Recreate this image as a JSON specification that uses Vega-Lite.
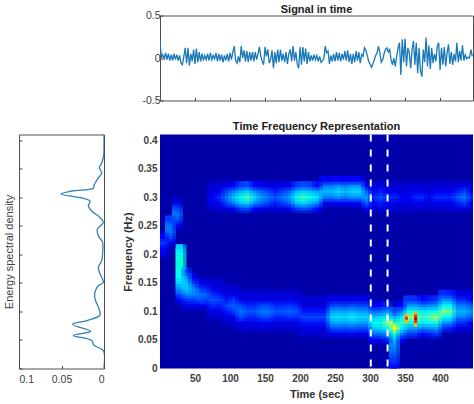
{"$schema":"https://vega.github.io/schema/vega-lite/v6.json","padding":{"left":3,"top":2.5,"right":0,"bottom":0},"background":"white","bounds":"flush","columns":2,"spacing":{"row":34,"column":56},
"config":{"font":"Liberation Sans","axis":{"grid":false,"labelColor":"#404040","titleColor":"#303030","domain":false,"tickColor":"#404040","labelFontSize":10.5},"view":{"stroke":"#505050"},"title":{"fontSize":11,"fontWeight":"bold","color":"#202020"}},
"datasets":{
"sig":[{"t":0,"v":0.2},{"t":2,"v":0},{"t":4,"v":0.04},{"t":6,"v":-0.01},{"t":8,"v":0.06},{"t":10,"v":-0.02},{"t":12,"v":0.05},{"t":14,"v":-0.03},{"t":16,"v":0.04},{"t":18,"v":-0.03},{"t":20,"v":0.05},{"t":22,"v":-0.02},{"t":24,"v":0.04},{"t":26,"v":-0.03},{"t":28,"v":0.03},{"t":30,"v":-0.06},{"t":32,"v":-0.08},{"t":34,"v":0.02},{"t":36,"v":0.12},{"t":38,"v":-0.06},{"t":40,"v":0.12},{"t":42,"v":-0.09},{"t":44,"v":0.05},{"t":46,"v":-0.04},{"t":48,"v":0.1},{"t":50,"v":-0.07},{"t":52,"v":0.11},{"t":54,"v":-0.05},{"t":56,"v":0.07},{"t":58,"v":-0.04},{"t":60,"v":0.05},{"t":62,"v":-0.03},{"t":64,"v":0.03},{"t":66,"v":-0.02},{"t":68,"v":0.05},{"t":70,"v":-0.03},{"t":72,"v":0.06},{"t":74,"v":-0.02},{"t":76,"v":0.03},{"t":78,"v":-0.01},{"t":80,"v":0.06},{"t":82,"v":-0.04},{"t":84,"v":0.05},{"t":86,"v":-0.03},{"t":88,"v":0.04},{"t":90,"v":-0.05},{"t":92,"v":0.03},{"t":94,"v":-0.03},{"t":96,"v":0.05},{"t":98,"v":-0.04},{"t":100,"v":0.06},{"t":102,"v":-0.02},{"t":104,"v":0.07},{"t":106,"v":0.14},{"t":108,"v":-0.03},{"t":110,"v":-0.06},{"t":112,"v":0.02},{"t":114,"v":-0.05},{"t":116,"v":0.14},{"t":118,"v":0},{"t":120,"v":0.09},{"t":122,"v":-0.04},{"t":124,"v":0.08},{"t":126,"v":-0.05},{"t":128,"v":0.07},{"t":130,"v":-0.03},{"t":132,"v":0.07},{"t":134,"v":-0.04},{"t":136,"v":0.07},{"t":138,"v":-0.02},{"t":140,"v":0.05},{"t":142,"v":0.13},{"t":144,"v":0.02},{"t":146,"v":-0.04},{"t":148,"v":-0.08},{"t":150,"v":0.13},{"t":152,"v":0.02},{"t":154,"v":0.1},{"t":156,"v":-0.06},{"t":158,"v":-0.02},{"t":160,"v":0.09},{"t":162,"v":-0.12},{"t":164,"v":0.07},{"t":166,"v":-0.06},{"t":168,"v":0.1},{"t":170,"v":-0.05},{"t":172,"v":0.1},{"t":174,"v":-0.03},{"t":176,"v":0.05},{"t":178,"v":-0.05},{"t":180,"v":0.07},{"t":182,"v":-0.07},{"t":184,"v":0.05},{"t":186,"v":0.1},{"t":188,"v":-0.04},{"t":190,"v":0.14},{"t":192,"v":-0.03},{"t":194,"v":0.07},{"t":196,"v":-0.07},{"t":198,"v":-0.12},{"t":200,"v":0.13},{"t":202,"v":-0.08},{"t":204,"v":0.13},{"t":206,"v":-0.04},{"t":208,"v":0.11},{"t":210,"v":-0.07},{"t":212,"v":0.07},{"t":214,"v":-0.04},{"t":216,"v":0.03},{"t":218,"v":-0.03},{"t":220,"v":0.04},{"t":222,"v":-0.02},{"t":224,"v":0.03},{"t":226,"v":-0.04},{"t":228,"v":0.02},{"t":230,"v":-0.05},{"t":232,"v":-0.03},{"t":234,"v":-0.01},{"t":236,"v":0.14},{"t":238,"v":0.06},{"t":240,"v":0.08},{"t":242,"v":-0.07},{"t":244,"v":0.03},{"t":246,"v":-0.04},{"t":248,"v":0.05},{"t":250,"v":-0.04},{"t":252,"v":0.07},{"t":254,"v":-0.03},{"t":256,"v":0.06},{"t":258,"v":-0.04},{"t":260,"v":0.05},{"t":262,"v":-0.02},{"t":264,"v":0.08},{"t":266,"v":-0.03},{"t":268,"v":0.09},{"t":270,"v":-0.05},{"t":272,"v":0.05},{"t":274,"v":-0.07},{"t":276,"v":0.05},{"t":278,"v":-0.05},{"t":280,"v":0.08},{"t":282,"v":-0.03},{"t":284,"v":0.07},{"t":286,"v":-0.06},{"t":288,"v":0.04},{"t":290,"v":0.02},{"t":292,"v":0.12},{"t":294,"v":0.09},{"t":296,"v":0.03},{"t":298,"v":-0.04},{"t":300,"v":-0.07},{"t":302,"v":-0.11},{"t":304,"v":-0.07},{"t":306,"v":-0.02},{"t":308,"v":0.03},{"t":310,"v":0.06},{"t":312,"v":0.14},{"t":314,"v":0.06},{"t":316,"v":-0.05},{"t":318,"v":-0.02},{"t":320,"v":0.05},{"t":322,"v":0.1},{"t":324,"v":0.12},{"t":326,"v":0.07},{"t":328,"v":0.1},{"t":330,"v":-0.02},{"t":332,"v":-0.08},{"t":334,"v":0},{"t":336,"v":-0.1},{"t":338,"v":0.02},{"t":340,"v":0.12},{"t":342,"v":0.18},{"t":344,"v":-0.2},{"t":346,"v":0.22},{"t":348,"v":-0.05},{"t":350,"v":0.23},{"t":352,"v":-0.1},{"t":354,"v":0.12},{"t":356,"v":0.06},{"t":358,"v":-0.12},{"t":360,"v":0.1},{"t":362,"v":0.2},{"t":364,"v":-0.08},{"t":366,"v":0.18},{"t":368,"v":-0.18},{"t":370,"v":0.12},{"t":372,"v":-0.15},{"t":374,"v":-0.22},{"t":376,"v":0.1},{"t":378,"v":-0.05},{"t":380,"v":0.24},{"t":382,"v":-0.1},{"t":384,"v":0.15},{"t":386,"v":-0.13},{"t":388,"v":0.12},{"t":390,"v":-0.06},{"t":392,"v":0.05},{"t":394,"v":-0.04},{"t":396,"v":0.14},{"t":398,"v":0.18},{"t":400,"v":-0.14},{"t":402,"v":0.12},{"t":404,"v":-0.08},{"t":406,"v":0.13},{"t":408,"v":-0.1},{"t":410,"v":0.06},{"t":412,"v":0.16},{"t":414,"v":-0.07},{"t":416,"v":0.07},{"t":418,"v":-0.08},{"t":420,"v":0.05},{"t":422,"v":-0.04},{"t":424,"v":0.18},{"t":426,"v":-0.05},{"t":428,"v":0.08},{"t":430,"v":-0.03},{"t":432,"v":0.15},{"t":434,"v":-0.03},{"t":436,"v":0.04},{"t":438,"v":-0.01},{"t":440,"v":0.01},{"t":442,"v":0},{"t":444,"v":0.1},{"t":446,"v":0.02}],
"esd":[{"f":0,"e":0},{"f":0.029,"e":0},{"f":0.034,"e":0.003},{"f":0.0407,"e":0.0118},{"f":0.049,"e":0.0145},{"f":0.058,"e":0.036},{"f":0.065,"e":0.0157},{"f":0.0773,"e":0.0369},{"f":0.084,"e":0.02},{"f":0.094,"e":0.0047},{"f":0.1076,"e":0.0067},{"f":0.122,"e":0.0106},{"f":0.134,"e":0.0106},{"f":0.145,"e":0.0067},{"f":0.151,"e":0.0008},{"f":0.166,"e":0.0047},{"f":0.177,"e":0.0067},{"f":0.189,"e":0.0027},{"f":0.2035,"e":0.0016},{"f":0.221,"e":0.0016},{"f":0.2326,"e":0.0067},{"f":0.244,"e":0.0078},{"f":0.256,"e":0.0008},{"f":0.2645,"e":0.0047},{"f":0.276,"e":0.0145},{"f":0.285,"e":0.0184},{"f":0.2936,"e":0.0165},{"f":0.2994,"e":0.0282},{"f":0.3058,"e":0.0506},{"f":0.311,"e":0.038},{"f":0.3157,"e":0.0125},{"f":0.321,"e":0.0118},{"f":0.3314,"e":0.0078},{"f":0.343,"e":0.0027},{"f":0.3517,"e":0.0055},{"f":0.36,"e":0.0027},{"f":0.372,"e":0.0005},{"f":0.4,"e":0},{"f":0.41,"e":0}],
"marks":[{"t":301},{"t":325}],
"hot":[{"t":352,"f":0.092,"v":0.72},{"t":352,"f":0.087,"v":0.86},{"t":352,"f":0.082,"v":0.72},{"t":365,"f":0.097,"v":0.72},{"t":365,"f":0.091,"v":0.86},{"t":365,"f":0.086,"v":0.92},{"t":365,"f":0.081,"v":0.86},{"t":365,"f":0.076,"v":0.72},{"t":330,"f":0.08,"v":0.6},{"t":335,"f":0.073,"v":0.62}],
"cells":[
{"t":5,"f":0.2,"v":0.09},{"t":5,"f":0.21,"v":0.11},{"t":5,"f":0.22,"v":0.13},{"t":5,"f":0.23,"v":0.11},{"t":15,"f":0.22,"v":0.1},{"t":15,"f":0.23,"v":0.14},{"t":15,"f":0.24,"v":0.18},{"t":15,"f":0.25,"v":0.18},{"t":15,"f":0.26,"v":0.13},{"t":25,"f":0.25,"v":0.1},{"t":25,"f":0.26,"v":0.14},{"t":25,"f":0.27,"v":0.18},{"t":25,"f":0.28,"v":0.14},{"t":25,"f":0.29,"v":0.08},
{"t":30,"f":0.21,"v":0.3},{"t":30,"f":0.2,"v":0.38},{"t":30,"f":0.19,"v":0.42},{"t":30,"f":0.18,"v":0.42},{"t":30,"f":0.17,"v":0.4},{"t":30,"f":0.16,"v":0.36},{"t":30,"f":0.15,"v":0.3},{"t":30,"f":0.14,"v":0.22},{"t":30,"f":0.13,"v":0.15},{"t":30,"f":0.12,"v":0.11},
{"t":38,"f":0.17,"v":0.12},{"t":38,"f":0.16,"v":0.2},{"t":38,"f":0.15,"v":0.27},{"t":38,"f":0.14,"v":0.3},{"t":38,"f":0.13,"v":0.22},{"t":38,"f":0.12,"v":0.13},{"t":38,"f":0.11,"v":0.08},
{"t":48,"f":0.16,"v":0.09},{"t":48,"f":0.15,"v":0.13},{"t":48,"f":0.14,"v":0.2},{"t":48,"f":0.13,"v":0.2},{"t":48,"f":0.12,"v":0.13},{"t":48,"f":0.11,"v":0.09},
{"t":58,"f":0.15,"v":0.09},{"t":58,"f":0.14,"v":0.13},{"t":58,"f":0.13,"v":0.18},{"t":58,"f":0.12,"v":0.15},{"t":58,"f":0.11,"v":0.1},
{"t":65,"f":0.15,"v":0.08},{"t":65,"f":0.14,"v":0.12},{"t":65,"f":0.13,"v":0.16},{"t":65,"f":0.12,"v":0.13},{"t":65,"f":0.11,"v":0.09},
{"t":75,"f":0.15,"v":0.065},{"t":75,"f":0.14,"v":0.085},{"t":75,"f":0.13,"v":0.12},{"t":75,"f":0.12,"v":0.15},{"t":75,"f":0.11,"v":0.12},{"t":75,"f":0.1,"v":0.085},{"t":75,"f":0.09,"v":0.065},
{"t":85,"f":0.15,"v":0.064},{"t":85,"f":0.14,"v":0.08},{"t":85,"f":0.13,"v":0.113},{"t":85,"f":0.12,"v":0.14},{"t":85,"f":0.11,"v":0.113},{"t":85,"f":0.1,"v":0.08},{"t":85,"f":0.09,"v":0.064},
{"t":95,"f":0.14,"v":0.064},{"t":95,"f":0.13,"v":0.08},{"t":95,"f":0.12,"v":0.113},{"t":95,"f":0.11,"v":0.14},{"t":95,"f":0.1,"v":0.113},{"t":95,"f":0.09,"v":0.08},{"t":95,"f":0.08,"v":0.064},
{"t":105,"f":0.14,"v":0.067},{"t":105,"f":0.13,"v":0.088},{"t":105,"f":0.12,"v":0.127},{"t":105,"f":0.11,"v":0.16},{"t":105,"f":0.1,"v":0.127},{"t":105,"f":0.09,"v":0.088},{"t":105,"f":0.08,"v":0.067},
{"t":115,"f":0.13,"v":0.07},{"t":115,"f":0.12,"v":0.095},{"t":115,"f":0.11,"v":0.14},{"t":115,"f":0.1,"v":0.18},{"t":115,"f":0.09,"v":0.14},{"t":115,"f":0.08,"v":0.095},{"t":115,"f":0.07,"v":0.07},
{"t":125,"f":0.13,"v":0.065},{"t":125,"f":0.12,"v":0.085},{"t":125,"f":0.11,"v":0.12},{"t":125,"f":0.1,"v":0.15},{"t":125,"f":0.09,"v":0.12},{"t":125,"f":0.08,"v":0.085},{"t":125,"f":0.07,"v":0.065},
{"t":135,"f":0.13,"v":0.065},{"t":135,"f":0.12,"v":0.085},{"t":135,"f":0.11,"v":0.12},{"t":135,"f":0.1,"v":0.15},{"t":135,"f":0.09,"v":0.12},{"t":135,"f":0.08,"v":0.085},{"t":135,"f":0.07,"v":0.065},
{"t":145,"f":0.13,"v":0.07},{"t":145,"f":0.12,"v":0.095},{"t":145,"f":0.11,"v":0.14},{"t":145,"f":0.1,"v":0.18},{"t":145,"f":0.09,"v":0.14},{"t":145,"f":0.08,"v":0.095},{"t":145,"f":0.07,"v":0.07},
{"t":155,"f":0.13,"v":0.07},{"t":155,"f":0.12,"v":0.095},{"t":155,"f":0.11,"v":0.14},{"t":155,"f":0.1,"v":0.18},{"t":155,"f":0.09,"v":0.14},{"t":155,"f":0.08,"v":0.095},{"t":155,"f":0.07,"v":0.07},
{"t":165,"f":0.13,"v":0.065},{"t":165,"f":0.12,"v":0.085},{"t":165,"f":0.11,"v":0.12},{"t":165,"f":0.1,"v":0.15},{"t":165,"f":0.09,"v":0.12},{"t":165,"f":0.08,"v":0.085},{"t":165,"f":0.07,"v":0.065},
{"t":175,"f":0.13,"v":0.065},{"t":175,"f":0.12,"v":0.085},{"t":175,"f":0.11,"v":0.12},{"t":175,"f":0.1,"v":0.15},{"t":175,"f":0.09,"v":0.12},{"t":175,"f":0.08,"v":0.085},{"t":175,"f":0.07,"v":0.065},
{"t":185,"f":0.13,"v":0.067},{"t":185,"f":0.12,"v":0.088},{"t":185,"f":0.11,"v":0.127},{"t":185,"f":0.1,"v":0.16},{"t":185,"f":0.09,"v":0.127},{"t":185,"f":0.08,"v":0.088},{"t":185,"f":0.07,"v":0.067},
{"t":195,"f":0.13,"v":0.065},{"t":195,"f":0.12,"v":0.085},{"t":195,"f":0.11,"v":0.12},{"t":195,"f":0.1,"v":0.15},{"t":195,"f":0.09,"v":0.12},{"t":195,"f":0.08,"v":0.085},{"t":195,"f":0.07,"v":0.065},
{"t":205,"f":0.12,"v":0.064},{"t":205,"f":0.11,"v":0.08},{"t":205,"f":0.1,"v":0.113},{"t":205,"f":0.09,"v":0.14},{"t":205,"f":0.08,"v":0.113},{"t":205,"f":0.07,"v":0.08},{"t":205,"f":0.06,"v":0.064},
{"t":215,"f":0.12,"v":0.064},{"t":215,"f":0.11,"v":0.08},{"t":215,"f":0.1,"v":0.113},{"t":215,"f":0.09,"v":0.14},{"t":215,"f":0.08,"v":0.113},{"t":215,"f":0.07,"v":0.08},{"t":215,"f":0.06,"v":0.064},
{"t":225,"f":0.12,"v":0.064},{"t":225,"f":0.11,"v":0.08},{"t":225,"f":0.1,"v":0.113},{"t":225,"f":0.09,"v":0.14},{"t":225,"f":0.08,"v":0.113},{"t":225,"f":0.07,"v":0.08},{"t":225,"f":0.06,"v":0.064},
{"t":235,"f":0.12,"v":0.064},{"t":235,"f":0.11,"v":0.08},{"t":235,"f":0.1,"v":0.113},{"t":235,"f":0.09,"v":0.14},{"t":235,"f":0.08,"v":0.113},{"t":235,"f":0.07,"v":0.08},{"t":235,"f":0.06,"v":0.064},
{"t":245,"f":0.12,"v":0.088},{"t":245,"f":0.11,"v":0.138},{"t":245,"f":0.1,"v":0.225},{"t":245,"f":0.09,"v":0.3},{"t":245,"f":0.08,"v":0.225},{"t":245,"f":0.07,"v":0.138},{"t":245,"f":0.06,"v":0.088},
{"t":255,"f":0.12,"v":0.09},{"t":255,"f":0.11,"v":0.145},{"t":255,"f":0.1,"v":0.24},{"t":255,"f":0.09,"v":0.32},{"t":255,"f":0.08,"v":0.24},{"t":255,"f":0.07,"v":0.145},{"t":255,"f":0.06,"v":0.09},
{"t":265,"f":0.12,"v":0.088},{"t":265,"f":0.11,"v":0.138},{"t":265,"f":0.1,"v":0.225},{"t":265,"f":0.09,"v":0.3},{"t":265,"f":0.08,"v":0.225},{"t":265,"f":0.07,"v":0.138},{"t":265,"f":0.06,"v":0.088},
{"t":275,"f":0.12,"v":0.094},{"t":275,"f":0.11,"v":0.15},{"t":275,"f":0.1,"v":0.25},{"t":275,"f":0.09,"v":0.34},{"t":275,"f":0.08,"v":0.25},{"t":275,"f":0.07,"v":0.15},{"t":275,"f":0.06,"v":0.094},
{"t":285,"f":0.12,"v":0.088},{"t":285,"f":0.11,"v":0.138},{"t":285,"f":0.1,"v":0.225},{"t":285,"f":0.09,"v":0.3},{"t":285,"f":0.08,"v":0.225},{"t":285,"f":0.07,"v":0.138},{"t":285,"f":0.06,"v":0.088},
{"t":295,"f":0.12,"v":0.088},{"t":295,"f":0.11,"v":0.138},{"t":295,"f":0.1,"v":0.225},{"t":295,"f":0.09,"v":0.3},{"t":295,"f":0.08,"v":0.225},{"t":295,"f":0.07,"v":0.138},{"t":295,"f":0.06,"v":0.088},
{"t":305,"f":0.11,"v":0.1},{"t":305,"f":0.1,"v":0.165},{"t":305,"f":0.09,"v":0.28},{"t":305,"f":0.08,"v":0.38},{"t":305,"f":0.07,"v":0.28},{"t":305,"f":0.06,"v":0.165},{"t":305,"f":0.05,"v":0.1},
{"t":315,"f":0.11,"v":0.1},{"t":315,"f":0.1,"v":0.17},{"t":315,"f":0.09,"v":0.295},{"t":315,"f":0.08,"v":0.4},{"t":315,"f":0.07,"v":0.295},{"t":315,"f":0.06,"v":0.17},{"t":315,"f":0.05,"v":0.1},
{"t":325,"f":0.11,"v":0.12},{"t":325,"f":0.1,"v":0.215},{"t":325,"f":0.09,"v":0.38},{"t":325,"f":0.08,"v":0.52},{"t":325,"f":0.07,"v":0.38},{"t":325,"f":0.06,"v":0.215},{"t":325,"f":0.05,"v":0.12},
{"t":335,"f":0.1,"v":0.13},{"t":335,"f":0.09,"v":0.24},{"t":335,"f":0.08,"v":0.435},{"t":335,"f":0.07,"v":0.6},{"t":335,"f":0.06,"v":0.435},{"t":335,"f":0.05,"v":0.26},{"t":335,"f":0.04,"v":0.2},{"t":335,"f":0.03,"v":0.17},{"t":335,"f":0.02,"v":0.14},{"t":335,"f":0.01,"v":0.12},{"t":335,"f":0,"v":0.11},
{"t":345,"f":0.11,"v":0.11},{"t":345,"f":0.1,"v":0.19},{"t":345,"f":0.09,"v":0.33},{"t":345,"f":0.08,"v":0.45},{"t":345,"f":0.07,"v":0.33},{"t":345,"f":0.06,"v":0.19},{"t":345,"f":0.05,"v":0.11},
{"t":355,"f":0.12,"v":0.125},{"t":355,"f":0.11,"v":0.225},{"t":355,"f":0.1,"v":0.4},{"t":355,"f":0.09,"v":0.55},{"t":355,"f":0.08,"v":0.4},{"t":355,"f":0.07,"v":0.225},{"t":355,"f":0.06,"v":0.125},
{"t":365,"f":0.12,"v":0.125},{"t":365,"f":0.11,"v":0.225},{"t":365,"f":0.1,"v":0.4},{"t":365,"f":0.09,"v":0.55},{"t":365,"f":0.08,"v":0.4},{"t":365,"f":0.07,"v":0.225},{"t":365,"f":0.06,"v":0.125},
{"t":375,"f":0.12,"v":0.11},{"t":375,"f":0.11,"v":0.19},{"t":375,"f":0.1,"v":0.33},{"t":375,"f":0.09,"v":0.45},{"t":375,"f":0.08,"v":0.33},{"t":375,"f":0.07,"v":0.19},{"t":375,"f":0.06,"v":0.11},
{"t":385,"f":0.12,"v":0.115},{"t":385,"f":0.11,"v":0.2},{"t":385,"f":0.1,"v":0.35},{"t":385,"f":0.09,"v":0.48},{"t":385,"f":0.08,"v":0.35},{"t":385,"f":0.07,"v":0.2},{"t":385,"f":0.06,"v":0.115},
{"t":395,"f":0.12,"v":0.125},{"t":395,"f":0.11,"v":0.225},{"t":395,"f":0.1,"v":0.4},{"t":395,"f":0.09,"v":0.55},{"t":395,"f":0.08,"v":0.4},{"t":395,"f":0.07,"v":0.225},{"t":395,"f":0.06,"v":0.125},
{"t":405,"f":0.13,"v":0.12},{"t":405,"f":0.12,"v":0.215},{"t":405,"f":0.11,"v":0.38},{"t":405,"f":0.1,"v":0.52},{"t":405,"f":0.09,"v":0.38},{"t":405,"f":0.08,"v":0.215},{"t":405,"f":0.07,"v":0.12},
{"t":415,"f":0.13,"v":0.115},{"t":415,"f":0.12,"v":0.2},{"t":415,"f":0.11,"v":0.35},{"t":415,"f":0.1,"v":0.48},{"t":415,"f":0.09,"v":0.35},{"t":415,"f":0.08,"v":0.2},{"t":415,"f":0.07,"v":0.115},
{"t":425,"f":0.13,"v":0.08},{"t":425,"f":0.12,"v":0.12},{"t":425,"f":0.11,"v":0.19},{"t":425,"f":0.1,"v":0.25},{"t":425,"f":0.09,"v":0.19},{"t":425,"f":0.08,"v":0.12},{"t":425,"f":0.07,"v":0.08},
{"t":435,"f":0.13,"v":0.08},{"t":435,"f":0.12,"v":0.12},{"t":435,"f":0.11,"v":0.19},{"t":435,"f":0.1,"v":0.25},{"t":435,"f":0.09,"v":0.19},{"t":435,"f":0.08,"v":0.12},{"t":435,"f":0.07,"v":0.08},
{"t":445,"f":0.13,"v":0.073},{"t":445,"f":0.12,"v":0.1},{"t":445,"f":0.11,"v":0.155},{"t":445,"f":0.1,"v":0.2},{"t":445,"f":0.09,"v":0.155},{"t":445,"f":0.08,"v":0.1},{"t":445,"f":0.07,"v":0.073},
{"t":75,"f":0.28,"v":0.062},{"t":75,"f":0.29,"v":0.082},{"t":75,"f":0.3,"v":0.1},{"t":75,"f":0.31,"v":0.082},{"t":75,"f":0.32,"v":0.062},
{"t":85,"f":0.28,"v":0.068},{"t":85,"f":0.29,"v":0.095},{"t":85,"f":0.3,"v":0.12},{"t":85,"f":0.31,"v":0.095},{"t":85,"f":0.32,"v":0.068},
{"t":95,"f":0.28,"v":0.08},{"t":95,"f":0.29,"v":0.135},{"t":95,"f":0.3,"v":0.18},{"t":95,"f":0.31,"v":0.135},{"t":95,"f":0.32,"v":0.08},
{"t":105,"f":0.28,"v":0.1},{"t":105,"f":0.29,"v":0.185},{"t":105,"f":0.3,"v":0.28},{"t":105,"f":0.31,"v":0.185},{"t":105,"f":0.32,"v":0.1},
{"t":115,"f":0.28,"v":0.13},{"t":115,"f":0.29,"v":0.27},{"t":115,"f":0.3,"v":0.4},{"t":115,"f":0.31,"v":0.25},{"t":115,"f":0.32,"v":0.13},
{"t":125,"f":0.28,"v":0.14},{"t":125,"f":0.29,"v":0.3},{"t":125,"f":0.3,"v":0.46},{"t":125,"f":0.31,"v":0.29},{"t":125,"f":0.32,"v":0.14},
{"t":135,"f":0.28,"v":0.11},{"t":135,"f":0.29,"v":0.21},{"t":135,"f":0.3,"v":0.3},{"t":135,"f":0.31,"v":0.21},{"t":135,"f":0.32,"v":0.11},
{"t":145,"f":0.28,"v":0.09},{"t":145,"f":0.29,"v":0.16},{"t":145,"f":0.3,"v":0.22},{"t":145,"f":0.31,"v":0.16},{"t":145,"f":0.32,"v":0.09},
{"t":155,"f":0.28,"v":0.08},{"t":155,"f":0.29,"v":0.135},{"t":155,"f":0.3,"v":0.18},{"t":155,"f":0.31,"v":0.135},{"t":155,"f":0.32,"v":0.08},
{"t":165,"f":0.28,"v":0.075},{"t":165,"f":0.29,"v":0.115},{"t":165,"f":0.3,"v":0.15},{"t":165,"f":0.31,"v":0.115},{"t":165,"f":0.32,"v":0.075},
{"t":175,"f":0.28,"v":0.08},{"t":175,"f":0.29,"v":0.135},{"t":175,"f":0.3,"v":0.18},{"t":175,"f":0.31,"v":0.135},{"t":175,"f":0.32,"v":0.08},
{"t":185,"f":0.28,"v":0.09},{"t":185,"f":0.29,"v":0.16},{"t":185,"f":0.3,"v":0.22},{"t":185,"f":0.31,"v":0.16},{"t":185,"f":0.32,"v":0.09},
{"t":195,"f":0.28,"v":0.13},{"t":195,"f":0.29,"v":0.27},{"t":195,"f":0.3,"v":0.4},{"t":195,"f":0.31,"v":0.25},{"t":195,"f":0.32,"v":0.13},
{"t":205,"f":0.28,"v":0.14},{"t":205,"f":0.29,"v":0.3},{"t":205,"f":0.3,"v":0.46},{"t":205,"f":0.31,"v":0.29},{"t":205,"f":0.32,"v":0.14},
{"t":215,"f":0.28,"v":0.13},{"t":215,"f":0.29,"v":0.25},{"t":215,"f":0.3,"v":0.38},{"t":215,"f":0.31,"v":0.27},{"t":215,"f":0.32,"v":0.13},
{"t":225,"f":0.28,"v":0.11},{"t":225,"f":0.29,"v":0.21},{"t":225,"f":0.3,"v":0.32},{"t":225,"f":0.31,"v":0.23},{"t":225,"f":0.32,"v":0.11},
{"t":235,"f":0.29,"v":0.1},{"t":235,"f":0.3,"v":0.185},{"t":235,"f":0.31,"v":0.26},{"t":235,"f":0.32,"v":0.185},{"t":235,"f":0.33,"v":0.1},
{"t":245,"f":0.29,"v":0.1},{"t":245,"f":0.3,"v":0.185},{"t":245,"f":0.31,"v":0.26},{"t":245,"f":0.32,"v":0.185},{"t":245,"f":0.33,"v":0.1},
{"t":255,"f":0.29,"v":0.11},{"t":255,"f":0.3,"v":0.21},{"t":255,"f":0.31,"v":0.3},{"t":255,"f":0.32,"v":0.21},{"t":255,"f":0.33,"v":0.11},
{"t":265,"f":0.29,"v":0.1},{"t":265,"f":0.3,"v":0.185},{"t":265,"f":0.31,"v":0.26},{"t":265,"f":0.32,"v":0.185},{"t":265,"f":0.33,"v":0.1},
{"t":275,"f":0.29,"v":0.11},{"t":275,"f":0.3,"v":0.21},{"t":275,"f":0.31,"v":0.3},{"t":275,"f":0.32,"v":0.21},{"t":275,"f":0.33,"v":0.11},
{"t":285,"f":0.29,"v":0.11},{"t":285,"f":0.3,"v":0.21},{"t":285,"f":0.31,"v":0.3},{"t":285,"f":0.32,"v":0.21},{"t":285,"f":0.33,"v":0.11},
{"t":295,"f":0.28,"v":0.09},{"t":295,"f":0.29,"v":0.16},{"t":295,"f":0.3,"v":0.22},{"t":295,"f":0.31,"v":0.16},{"t":295,"f":0.32,"v":0.09},
{"t":305,"f":0.28,"v":0.068},{"t":305,"f":0.29,"v":0.095},{"t":305,"f":0.3,"v":0.12},{"t":305,"f":0.31,"v":0.095},{"t":305,"f":0.32,"v":0.068},
{"t":315,"f":0.28,"v":0.075},{"t":315,"f":0.29,"v":0.115},{"t":315,"f":0.3,"v":0.15},{"t":315,"f":0.31,"v":0.115},{"t":315,"f":0.32,"v":0.075},
{"t":325,"f":0.28,"v":0.068},{"t":325,"f":0.29,"v":0.095},{"t":325,"f":0.3,"v":0.12},{"t":325,"f":0.31,"v":0.095},{"t":325,"f":0.32,"v":0.068},
{"t":335,"f":0.28,"v":0.068},{"t":335,"f":0.29,"v":0.095},{"t":335,"f":0.3,"v":0.12},{"t":335,"f":0.31,"v":0.095},{"t":335,"f":0.32,"v":0.068},
{"t":345,"f":0.28,"v":0.062},{"t":345,"f":0.29,"v":0.082},{"t":345,"f":0.3,"v":0.1},{"t":345,"f":0.31,"v":0.082},{"t":345,"f":0.32,"v":0.062},
{"t":355,"f":0.28,"v":0.062},{"t":355,"f":0.29,"v":0.082},{"t":355,"f":0.3,"v":0.1},{"t":355,"f":0.31,"v":0.082},{"t":355,"f":0.32,"v":0.062},
{"t":365,"f":0.28,"v":0.068},{"t":365,"f":0.29,"v":0.095},{"t":365,"f":0.3,"v":0.12},{"t":365,"f":0.31,"v":0.095},{"t":365,"f":0.32,"v":0.068},
{"t":375,"f":0.28,"v":0.068},{"t":375,"f":0.29,"v":0.095},{"t":375,"f":0.3,"v":0.12},{"t":375,"f":0.31,"v":0.095},{"t":375,"f":0.32,"v":0.068},
{"t":385,"f":0.28,"v":0.062},{"t":385,"f":0.29,"v":0.082},{"t":385,"f":0.3,"v":0.1},{"t":385,"f":0.31,"v":0.082},{"t":385,"f":0.32,"v":0.062},
{"t":395,"f":0.28,"v":0.068},{"t":395,"f":0.29,"v":0.095},{"t":395,"f":0.3,"v":0.12},{"t":395,"f":0.31,"v":0.095},{"t":395,"f":0.32,"v":0.068},
{"t":405,"f":0.28,"v":0.068},{"t":405,"f":0.29,"v":0.095},{"t":405,"f":0.3,"v":0.12},{"t":405,"f":0.31,"v":0.095},{"t":405,"f":0.32,"v":0.068},
{"t":415,"f":0.28,"v":0.068},{"t":415,"f":0.29,"v":0.095},{"t":415,"f":0.3,"v":0.12},{"t":415,"f":0.31,"v":0.095},{"t":415,"f":0.32,"v":0.068},
{"t":425,"f":0.28,"v":0.075},{"t":425,"f":0.29,"v":0.115},{"t":425,"f":0.3,"v":0.15},{"t":425,"f":0.31,"v":0.115},{"t":425,"f":0.32,"v":0.075},
{"t":435,"f":0.28,"v":0.08},{"t":435,"f":0.29,"v":0.135},{"t":435,"f":0.3,"v":0.18},{"t":435,"f":0.31,"v":0.135},{"t":435,"f":0.32,"v":0.08},
{"t":445,"f":0.28,"v":0.068},{"t":445,"f":0.29,"v":0.095},{"t":445,"f":0.3,"v":0.12},{"t":445,"f":0.31,"v":0.095},{"t":445,"f":0.32,"v":0.068}
]},
"concat":[
{"width":85,"height":85,"view":{"stroke":null},"data":{"values":[{"a":0}]},"mark":{"type":"point","opacity":0},"encoding":{"x":{"field":"a","type":"quantitative","axis":null},"y":{"field":"a","type":"quantitative","axis":null}}},
{"width":313,"height":85,"title":{"text":"Signal in time","offset":-4},"data":{"name":"sig"},"mark":{"type":"line","color":"#1878b8","strokeWidth":1.3,"clip":true},"encoding":{
"x":{"field":"t","type":"quantitative","scale":{"domain":[0,447],"nice":false},"axis":{"title":null,"labels":false,"values":[50,100,150,200,250,300,350,400],"tickSize":-3}},
"y":{"field":"v","type":"quantitative","scale":{"domain":[-0.5,0.5],"nice":false},"axis":{"title":null,"values":[-0.5,0,0.5],"tickSize":-3,"labelPadding":3,"labelExpr":"replace(format(datum.value,'~g'),'−','-')"}}}},
{"width":85,"height":234,"data":{"name":"esd"},"mark":{"type":"line","color":"#2f80b8","strokeWidth":1.3,"interpolate":"catmull-rom","clip":true},"encoding":{
"order":{"field":"f","type":"quantitative"},
"x":{"field":"e","type":"quantitative","scale":{"domain":[0.1,0],"nice":false},"axis":{"title":null,"values":[0.1,0.05,0],"format":"~g","tickSize":-3,"labelPadding":9}},
"y":{"field":"f","type":"quantitative","scale":{"domain":[0,0.41],"nice":false},"axis":{"title":"Energy spectral density","titleFontSize":11,"titleFontWeight":"normal","titleColor":"#404040","titlePadding":4,"labels":false,"values":[0,0.05,0.1,0.15,0.2,0.25,0.3,0.35,0.4],"tickSize":-3}}}},
{"width":313,"height":234,"title":{"text":"Time Frequency Representation","offset":2},"view":{"fill":"#0000a8","stroke":null},"encoding":{
"x":{"field":"t","type":"quantitative","scale":{"domain":[0,447],"nice":false},"axis":{"title":"Time (sec)","titleFontSize":11,"titleFontWeight":"bold","titlePadding":5,"labelFontWeight":"bold","labelFontSize":10,"values":[50,100,150,200,250,300,350,400],"ticks":false,"labelPadding":5}},
"y":{"field":"f","type":"quantitative","scale":{"domain":[0,0.41],"nice":false},"axis":{"title":"Frequency (Hz)","titleFontSize":11,"titleFontWeight":"bold","titlePadding":4,"labelFontWeight":"bold","labelFontSize":10,"values":[0,0.05,0.1,0.15,0.2,0.25,0.3,0.35,0.4],"format":"~g","ticks":false,"labelPadding":3}}},
"layer":[
{"data":{"name":"cells"},"mark":{"type":"rect","width":7.4,"height":6,"clip":true,"xOffset":-1.75,"yOffset":-1.5},"encoding":{"color":{"field":"v","type":"quantitative","legend":null,"scale":{"domain":[0,0.11,0.36,0.62,0.87,1],"range":["#00008f","#0000ff","#00ffff","#ffff00","#ff0000","#800000"]}}}},
{"data":{"name":"cells"},"mark":{"type":"rect","width":7.4,"height":6,"clip":true,"opacity":0.5,"xOffset":1.75,"yOffset":-1.5},"encoding":{"color":{"field":"v","type":"quantitative","legend":null}}},
{"data":{"name":"cells"},"mark":{"type":"rect","width":7.4,"height":6,"clip":true,"opacity":0.33,"xOffset":-1.75,"yOffset":1.5},"encoding":{"color":{"field":"v","type":"quantitative","legend":null}}},
{"data":{"name":"cells"},"mark":{"type":"rect","width":7.4,"height":6,"clip":true,"opacity":0.25,"xOffset":1.75,"yOffset":1.5},"encoding":{"color":{"field":"v","type":"quantitative","legend":null}}},
{"data":{"name":"hot"},"mark":{"type":"rect","width":3,"height":4,"clip":true},"encoding":{"color":{"field":"v","type":"quantitative","legend":null}}},
{"data":{"name":"marks"},"mark":{"type":"rule","color":"white","strokeWidth":2,"strokeDash":[7,8]},"encoding":{"y":{"value":0},"y2":{"value":234}}}
]}
]}
